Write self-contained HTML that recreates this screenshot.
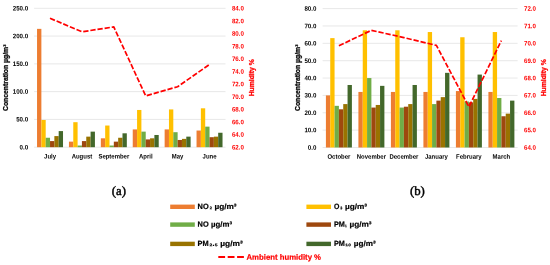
<!DOCTYPE html>
<html><head><meta charset="utf-8"><title>Figure</title>
<style>
html,body{margin:0;padding:0;background:#fff;}
svg{display:block;}
text{font-family:"Liberation Sans",sans-serif;fill:#000;}
.ax{font-size:6.5px;font-weight:bold;}
.tt{font-size:6.7px;font-weight:bold;stroke-width:0.25px;}
.tt:not(.r){stroke:#000;}
.tt.r{stroke:#FF0000;}
.lg{font-size:7.6px;font-weight:bold;stroke:#000;stroke-width:0.2px;}
.lg2{font-size:7.9px;font-weight:bold;stroke:#FF0000;stroke-width:0.2px;}
.sub{font-size:7.6px;}
.r{fill:#FF0000;}
.cap{font-family:"Liberation Serif",serif;font-size:12.8px;stroke:#000;stroke-width:0.45px;}
</style></head>
<body>
<svg width="550" height="265" viewBox="0 0 550 265">
<rect width="550" height="265" fill="#fff"/>
<line x1="34.1" x2="225.5" y1="147.20" y2="147.20" stroke="#D9D9D9" stroke-width="0.6"/>
<text transform="translate(28.20,149.40) rotate(0.03) scale(0.95,1)" text-anchor="end" class="ax">0.0</text>
<line x1="34.1" x2="225.5" y1="119.42" y2="119.42" stroke="#D9D9D9" stroke-width="0.6"/>
<text transform="translate(28.20,121.62) rotate(0.03) scale(0.95,1)" text-anchor="end" class="ax">50.0</text>
<line x1="34.1" x2="225.5" y1="91.64" y2="91.64" stroke="#D9D9D9" stroke-width="0.6"/>
<text transform="translate(28.20,93.84) rotate(0.03) scale(0.95,1)" text-anchor="end" class="ax">100.0</text>
<line x1="34.1" x2="225.5" y1="63.86" y2="63.86" stroke="#D9D9D9" stroke-width="0.6"/>
<text transform="translate(28.20,66.06) rotate(0.03) scale(0.95,1)" text-anchor="end" class="ax">150.0</text>
<line x1="34.1" x2="225.5" y1="36.08" y2="36.08" stroke="#D9D9D9" stroke-width="0.6"/>
<text transform="translate(28.20,38.28) rotate(0.03) scale(0.95,1)" text-anchor="end" class="ax">200.0</text>
<line x1="34.1" x2="225.5" y1="8.30" y2="8.30" stroke="#D9D9D9" stroke-width="0.6"/>
<text transform="translate(28.20,10.50) rotate(0.03) scale(0.95,1)" text-anchor="end" class="ax">250.0</text>
<text transform="translate(231.90,149.40) rotate(0.03) scale(0.95,1)" class="ax r">62.0</text>
<text transform="translate(231.90,136.77) rotate(0.03) scale(0.95,1)" class="ax r">64.0</text>
<text transform="translate(231.90,124.15) rotate(0.03) scale(0.95,1)" class="ax r">66.0</text>
<text transform="translate(231.90,111.52) rotate(0.03) scale(0.95,1)" class="ax r">68.0</text>
<text transform="translate(231.90,98.89) rotate(0.03) scale(0.95,1)" class="ax r">70.0</text>
<text transform="translate(231.90,86.26) rotate(0.03) scale(0.95,1)" class="ax r">72.0</text>
<text transform="translate(231.90,73.64) rotate(0.03) scale(0.95,1)" class="ax r">74.0</text>
<text transform="translate(231.90,61.01) rotate(0.03) scale(0.95,1)" class="ax r">76.0</text>
<text transform="translate(231.90,48.38) rotate(0.03) scale(0.95,1)" class="ax r">78.0</text>
<text transform="translate(231.90,35.75) rotate(0.03) scale(0.95,1)" class="ax r">80.0</text>
<text transform="translate(231.90,23.13) rotate(0.03) scale(0.95,1)" class="ax r">82.0</text>
<text transform="translate(231.90,10.50) rotate(0.03) scale(0.95,1)" class="ax r">84.0</text>
<rect x="37.04" y="28.86" width="4.33" height="118.34" fill="#ED7D31"/>
<rect x="41.37" y="119.98" width="4.33" height="27.22" fill="#FFC000"/>
<rect x="45.70" y="137.75" width="4.33" height="9.45" fill="#70AD47"/>
<rect x="50.03" y="141.09" width="4.33" height="6.11" fill="#9E480E"/>
<rect x="54.36" y="136.09" width="4.33" height="11.11" fill="#997300"/>
<rect x="58.69" y="131.09" width="4.33" height="16.11" fill="#43682B"/>
<text transform="translate(50.03,158.40) rotate(0.03) scale(0.92,1)" text-anchor="middle" class="ax">July</text>
<rect x="68.94" y="141.64" width="4.33" height="5.56" fill="#ED7D31"/>
<rect x="73.27" y="122.20" width="4.33" height="25.00" fill="#FFC000"/>
<rect x="77.60" y="145.53" width="4.33" height="1.67" fill="#70AD47"/>
<rect x="81.93" y="141.09" width="4.33" height="6.11" fill="#9E480E"/>
<rect x="86.26" y="136.64" width="4.33" height="10.56" fill="#997300"/>
<rect x="90.59" y="131.64" width="4.33" height="15.56" fill="#43682B"/>
<text transform="translate(81.93,158.40) rotate(0.03) scale(0.92,1)" text-anchor="middle" class="ax">August</text>
<rect x="100.84" y="138.31" width="4.33" height="8.89" fill="#ED7D31"/>
<rect x="105.17" y="125.53" width="4.33" height="21.67" fill="#FFC000"/>
<rect x="109.50" y="145.53" width="4.33" height="1.67" fill="#70AD47"/>
<rect x="113.83" y="141.64" width="4.33" height="5.56" fill="#9E480E"/>
<rect x="118.16" y="137.75" width="4.33" height="9.45" fill="#997300"/>
<rect x="122.49" y="133.31" width="4.33" height="13.89" fill="#43682B"/>
<text transform="translate(113.83,158.40) rotate(0.03) scale(0.92,1)" text-anchor="middle" class="ax">September</text>
<rect x="132.74" y="129.42" width="4.33" height="17.78" fill="#ED7D31"/>
<rect x="137.07" y="109.97" width="4.33" height="37.23" fill="#FFC000"/>
<rect x="141.40" y="131.64" width="4.33" height="15.56" fill="#70AD47"/>
<rect x="145.73" y="139.42" width="4.33" height="7.78" fill="#9E480E"/>
<rect x="150.06" y="138.31" width="4.33" height="8.89" fill="#997300"/>
<rect x="154.39" y="134.98" width="4.33" height="12.22" fill="#43682B"/>
<text transform="translate(145.73,158.40) rotate(0.03) scale(0.92,1)" text-anchor="middle" class="ax">April</text>
<rect x="164.64" y="129.42" width="4.33" height="17.78" fill="#ED7D31"/>
<rect x="168.97" y="109.42" width="4.33" height="37.78" fill="#FFC000"/>
<rect x="173.30" y="132.20" width="4.33" height="15.00" fill="#70AD47"/>
<rect x="177.63" y="139.98" width="4.33" height="7.22" fill="#9E480E"/>
<rect x="181.96" y="138.87" width="4.33" height="8.33" fill="#997300"/>
<rect x="186.29" y="136.64" width="4.33" height="10.56" fill="#43682B"/>
<text transform="translate(177.63,158.40) rotate(0.03) scale(0.92,1)" text-anchor="middle" class="ax">May</text>
<rect x="196.54" y="130.53" width="4.33" height="16.67" fill="#ED7D31"/>
<rect x="200.87" y="108.31" width="4.33" height="38.89" fill="#FFC000"/>
<rect x="205.20" y="126.64" width="4.33" height="20.56" fill="#70AD47"/>
<rect x="209.53" y="137.20" width="4.33" height="10.00" fill="#9E480E"/>
<rect x="213.86" y="136.64" width="4.33" height="10.56" fill="#997300"/>
<rect x="218.19" y="132.75" width="4.33" height="14.45" fill="#43682B"/>
<text transform="translate(209.53,158.40) rotate(0.03) scale(0.92,1)" text-anchor="middle" class="ax">June</text>
<polyline points="50.0,18.28 81.9,31.79 113.8,26.93 145.7,95.93 177.6,86.72 209.5,64.49" fill="none" stroke="#FF0000" stroke-width="1.7" stroke-dasharray="5.3 1.9" stroke-linejoin="round"/>
<text transform="translate(7.60,77.80) rotate(-90) scale(1.02,1)" text-anchor="middle" class="tt">Concentration µg/m³</text>
<text transform="translate(253.60,77.80) rotate(-90) scale(1.02,1)" text-anchor="middle" class="tt r">Humidity %</text>
<g transform="translate(0,0.3)">
<line x1="322.6" x2="517.6" y1="147.20" y2="147.20" stroke="#D9D9D9" stroke-width="0.6"/>
<text transform="translate(316.40,149.40) rotate(0.03) scale(0.95,1)" text-anchor="end" class="ax">0.0</text>
<line x1="322.6" x2="517.6" y1="129.84" y2="129.84" stroke="#D9D9D9" stroke-width="0.6"/>
<text transform="translate(316.40,132.04) rotate(0.03) scale(0.95,1)" text-anchor="end" class="ax">10.0</text>
<line x1="322.6" x2="517.6" y1="112.47" y2="112.47" stroke="#D9D9D9" stroke-width="0.6"/>
<text transform="translate(316.40,114.67) rotate(0.03) scale(0.95,1)" text-anchor="end" class="ax">20.0</text>
<line x1="322.6" x2="517.6" y1="95.11" y2="95.11" stroke="#D9D9D9" stroke-width="0.6"/>
<text transform="translate(316.40,97.31) rotate(0.03) scale(0.95,1)" text-anchor="end" class="ax">30.0</text>
<line x1="322.6" x2="517.6" y1="77.75" y2="77.75" stroke="#D9D9D9" stroke-width="0.6"/>
<text transform="translate(316.40,79.95) rotate(0.03) scale(0.95,1)" text-anchor="end" class="ax">40.0</text>
<line x1="322.6" x2="517.6" y1="60.39" y2="60.39" stroke="#D9D9D9" stroke-width="0.6"/>
<text transform="translate(316.40,62.59) rotate(0.03) scale(0.95,1)" text-anchor="end" class="ax">50.0</text>
<line x1="322.6" x2="517.6" y1="43.03" y2="43.03" stroke="#D9D9D9" stroke-width="0.6"/>
<text transform="translate(316.40,45.23) rotate(0.03) scale(0.95,1)" text-anchor="end" class="ax">60.0</text>
<line x1="322.6" x2="517.6" y1="25.66" y2="25.66" stroke="#D9D9D9" stroke-width="0.6"/>
<text transform="translate(316.40,27.86) rotate(0.03) scale(0.95,1)" text-anchor="end" class="ax">70.0</text>
<line x1="322.6" x2="517.6" y1="8.30" y2="8.30" stroke="#D9D9D9" stroke-width="0.6"/>
<text transform="translate(316.40,10.50) rotate(0.03) scale(0.95,1)" text-anchor="end" class="ax">80.0</text>
<text transform="translate(524.00,149.40) rotate(0.03) scale(0.95,1)" class="ax r">64.0</text>
<text transform="translate(524.00,132.04) rotate(0.03) scale(0.95,1)" class="ax r">65.0</text>
<text transform="translate(524.00,114.67) rotate(0.03) scale(0.95,1)" class="ax r">66.0</text>
<text transform="translate(524.00,97.31) rotate(0.03) scale(0.95,1)" class="ax r">67.0</text>
<text transform="translate(524.00,79.95) rotate(0.03) scale(0.95,1)" class="ax r">68.0</text>
<text transform="translate(524.00,62.59) rotate(0.03) scale(0.95,1)" class="ax r">69.0</text>
<text transform="translate(524.00,45.23) rotate(0.03) scale(0.95,1)" class="ax r">70.0</text>
<text transform="translate(524.00,27.86) rotate(0.03) scale(0.95,1)" class="ax r">71.0</text>
<text transform="translate(524.00,10.50) rotate(0.03) scale(0.95,1)" class="ax r">72.0</text>
<rect x="325.91" y="95.11" width="4.33" height="52.09" fill="#ED7D31"/>
<rect x="330.24" y="37.82" width="4.33" height="109.38" fill="#FFC000"/>
<rect x="334.57" y="105.53" width="4.33" height="41.67" fill="#70AD47"/>
<rect x="338.90" y="109.00" width="4.33" height="38.20" fill="#9E480E"/>
<rect x="343.23" y="103.79" width="4.33" height="43.41" fill="#997300"/>
<rect x="347.56" y="84.69" width="4.33" height="62.50" fill="#43682B"/>
<text transform="translate(338.90,158.40) rotate(0.03) scale(0.92,1)" text-anchor="middle" class="ax">October</text>
<rect x="358.41" y="91.64" width="4.33" height="55.56" fill="#ED7D31"/>
<rect x="362.74" y="30.00" width="4.33" height="117.20" fill="#FFC000"/>
<rect x="367.07" y="77.75" width="4.33" height="69.45" fill="#70AD47"/>
<rect x="371.40" y="107.27" width="4.33" height="39.93" fill="#9E480E"/>
<rect x="375.73" y="104.66" width="4.33" height="42.54" fill="#997300"/>
<rect x="380.06" y="85.56" width="4.33" height="61.64" fill="#43682B"/>
<text transform="translate(371.40,158.40) rotate(0.03) scale(0.92,1)" text-anchor="middle" class="ax">November</text>
<rect x="390.91" y="91.64" width="4.33" height="55.56" fill="#ED7D31"/>
<rect x="395.24" y="30.00" width="4.33" height="117.20" fill="#FFC000"/>
<rect x="399.57" y="107.27" width="4.33" height="39.93" fill="#70AD47"/>
<rect x="403.90" y="106.40" width="4.33" height="40.80" fill="#9E480E"/>
<rect x="408.23" y="103.79" width="4.33" height="43.41" fill="#997300"/>
<rect x="412.56" y="84.69" width="4.33" height="62.50" fill="#43682B"/>
<text transform="translate(403.90,158.40) rotate(0.03) scale(0.92,1)" text-anchor="middle" class="ax">December</text>
<rect x="423.41" y="91.64" width="4.33" height="55.56" fill="#ED7D31"/>
<rect x="427.74" y="31.74" width="4.33" height="115.46" fill="#FFC000"/>
<rect x="432.07" y="103.79" width="4.33" height="43.41" fill="#70AD47"/>
<rect x="436.40" y="100.32" width="4.33" height="46.88" fill="#9E480E"/>
<rect x="440.73" y="96.85" width="4.33" height="50.35" fill="#997300"/>
<rect x="445.06" y="72.54" width="4.33" height="74.66" fill="#43682B"/>
<text transform="translate(436.40,158.40) rotate(0.03) scale(0.92,1)" text-anchor="middle" class="ax">January</text>
<rect x="455.91" y="90.77" width="4.33" height="56.43" fill="#ED7D31"/>
<rect x="460.24" y="36.95" width="4.33" height="110.25" fill="#FFC000"/>
<rect x="464.57" y="101.19" width="4.33" height="46.01" fill="#70AD47"/>
<rect x="468.90" y="102.06" width="4.33" height="45.14" fill="#9E480E"/>
<rect x="473.23" y="98.58" width="4.33" height="48.61" fill="#997300"/>
<rect x="477.56" y="74.28" width="4.33" height="72.92" fill="#43682B"/>
<text transform="translate(468.90,158.40) rotate(0.03) scale(0.92,1)" text-anchor="middle" class="ax">February</text>
<rect x="488.41" y="91.64" width="4.33" height="55.56" fill="#ED7D31"/>
<rect x="492.74" y="31.74" width="4.33" height="115.46" fill="#FFC000"/>
<rect x="497.07" y="97.72" width="4.33" height="49.48" fill="#70AD47"/>
<rect x="501.40" y="115.95" width="4.33" height="31.25" fill="#9E480E"/>
<rect x="505.73" y="113.34" width="4.33" height="33.86" fill="#997300"/>
<rect x="510.06" y="100.32" width="4.33" height="46.88" fill="#43682B"/>
<text transform="translate(501.40,158.40) rotate(0.03) scale(0.92,1)" text-anchor="middle" class="ax">March</text>
<polyline points="338.9,45.46 371.4,30.00 403.9,37.30 436.4,45.11 468.9,106.57 501.4,40.25" fill="none" stroke="#FF0000" stroke-width="1.7" stroke-dasharray="5.3 1.9" stroke-linejoin="round"/>
<text transform="translate(299.50,77.50) rotate(-90) scale(1.02,1)" text-anchor="middle" class="tt">Concentration µg/m³</text>
<text transform="translate(546.20,77.50) rotate(-90) scale(1.02,1)" text-anchor="middle" class="tt r">Humidity %</text>
</g>
<rect x="170.2" y="204.60" width="24.6" height="4.4" fill="#ED7D31"/><text transform="rotate(0.03 197.6 209.0)" class="lg"><tspan x="197.6" y="209.0" textLength="11.1" lengthAdjust="spacingAndGlyphs">NO</tspan><tspan x="209.4" y="209.0" textLength="2.6" lengthAdjust="spacingAndGlyphs" class="sub">₂</tspan> <tspan x="214.4" y="209.0" textLength="22.1" lengthAdjust="spacingAndGlyphs">µg/m³</tspan></text>
<rect x="170.2" y="222.40" width="24.6" height="4.4" fill="#70AD47"/><text transform="rotate(0.03 197.6 226.7)" class="lg"><tspan x="197.6" y="226.7" textLength="11.1" lengthAdjust="spacingAndGlyphs">NO</tspan> <tspan x="211.0" y="226.7" textLength="21.0" lengthAdjust="spacingAndGlyphs">µg/m³</tspan></text>
<rect x="170.2" y="241.70" width="24.6" height="4.4" fill="#997300"/><text transform="rotate(0.03 197.6 246.0)" class="lg"><tspan x="197.6" y="246.0" textLength="11.1" lengthAdjust="spacingAndGlyphs">PM</tspan><tspan x="209.2" y="246.0" textLength="8.5" lengthAdjust="spacingAndGlyphs" class="sub">₂.₅</tspan> <tspan x="220.3" y="246.0" textLength="22.4" lengthAdjust="spacingAndGlyphs">µg/m³</tspan></text>
<rect x="306.4" y="204.60" width="24.6" height="4.4" fill="#FFC000"/><text transform="rotate(0.03 333.9 209.0)" class="lg"><tspan x="333.9" y="209.0" textLength="5.4" lengthAdjust="spacingAndGlyphs">O</tspan><tspan x="340.0" y="209.0" textLength="2.5" lengthAdjust="spacingAndGlyphs" class="sub">₃</tspan> <tspan x="345.0" y="209.0" textLength="22.1" lengthAdjust="spacingAndGlyphs">µg/m³</tspan></text>
<rect x="306.4" y="222.40" width="24.6" height="4.4" fill="#9E480E"/><text transform="rotate(0.03 333.9 226.7)" class="lg"><tspan x="333.9" y="226.7" textLength="10.9" lengthAdjust="spacingAndGlyphs">PM</tspan><tspan x="345.1" y="226.7" textLength="1.8" lengthAdjust="spacingAndGlyphs" class="sub">₁</tspan> <tspan x="349.5" y="226.7" textLength="22.1" lengthAdjust="spacingAndGlyphs">µg/m³</tspan></text>
<rect x="306.4" y="241.70" width="24.6" height="4.4" fill="#43682B"/><text transform="rotate(0.03 333.9 246.0)" class="lg"><tspan x="333.9" y="246.0" textLength="10.9" lengthAdjust="spacingAndGlyphs">PM</tspan><tspan x="345.3" y="246.0" textLength="5.9" lengthAdjust="spacingAndGlyphs" class="sub">₁₀</tspan> <tspan x="353.8" y="246.0" textLength="21.8" lengthAdjust="spacingAndGlyphs">µg/m³</tspan></text>
<line x1="218.3" x2="243.9" y1="257.1" y2="257.1" stroke="#FF0000" stroke-width="2" stroke-dasharray="6.8 2.6"/>
<text transform="rotate(0.03 246.5 259.8)" x="246.5" y="259.8" textLength="74.5" lengthAdjust="spacingAndGlyphs" class="lg2 r">Ambient humidity %</text>
<text transform="rotate(0.03 118.9 194.9)" x="118.9" y="194.9" text-anchor="middle" class="cap">(a)</text>
<text transform="rotate(0.03 417.4 194.9)" x="417.4" y="194.9" text-anchor="middle" class="cap">(b)</text>
</svg>
</body></html>
